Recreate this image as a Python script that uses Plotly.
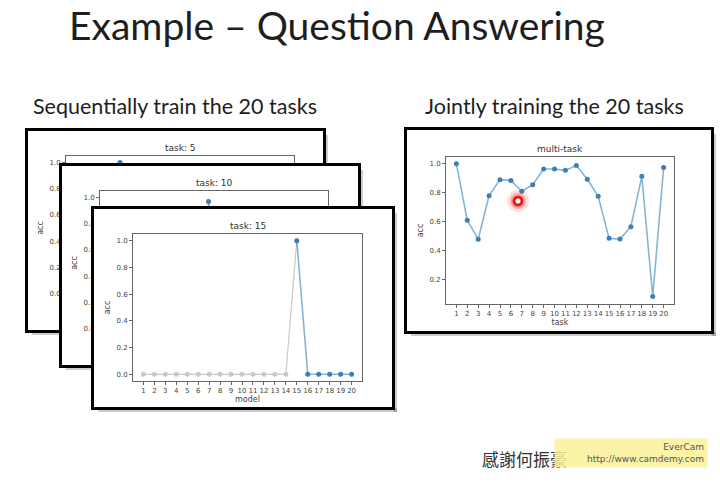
import plotly.graph_objects as go

W, H = 720, 482

# ---------------- data ----------------
models = list(range(1, 21))
model_labels = [str(m) for m in models]
acc_ticks = [0.0, 0.2, 0.4, 0.6, 0.8, 1.0]
acc_tick_labels = ["0.0", "0.2", "0.4", "0.6", "0.8", "1.0"]

# task 5 (mostly hidden)
t5_gray_x = [1, 2, 3, 4, 5]
t5_gray_y = [0.0, 0.0, 0.0, 0.0, 1.0]
t5_blue_x = [5, 6, 7, 8, 9, 10, 11, 12, 13, 14, 15, 16, 17, 18, 19, 20]
t5_blue_y = [1.0, 0.0, 0.0, 0.0, 0.0, 0.0, 0.0, 0.0, 0.0, 0.0, 0.0, 0.0, 0.0, 0.0, 0.0, 0.0]

# task 10 (mostly hidden)
t10_gray_x = [1, 2, 3, 4, 5, 6, 7, 8, 9, 10]
t10_gray_y = [0.0, 0.0, 0.0, 0.0, 0.0, 0.0, 0.0, 0.0, 0.0, 0.97]
t10_blue_x = [10, 11, 12, 13, 14, 15, 16, 17, 18, 19, 20]
t10_blue_y = [0.97, 0.0, 0.0, 0.0, 0.0, 0.0, 0.0, 0.0, 0.0, 0.0, 0.0]

# task 15
t15_gray_x = [1, 2, 3, 4, 5, 6, 7, 8, 9, 10, 11, 12, 13, 14, 15]
t15_gray_y = [0.0] * 14 + [1.0]
t15_blue_x = [15, 16, 17, 18, 19, 20]
t15_blue_y = [1.0, 0.0, 0.0, 0.0, 0.0, 0.0]

# multi-task
joint_acc = [1.0, 0.61, 0.48, 0.78, 0.89, 0.885, 0.81, 0.855, 0.963, 0.963,
             0.954, 0.988, 0.893, 0.776, 0.486, 0.481, 0.566, 0.913, 0.086, 0.973]

# ---------------- helpers ----------------
def px(x):
    return x / W

def py(y):
    return 1 - y / H

def dom_x(a, b):
    return [px(a), px(b)]

def dom_y(top, bottom):
    return [py(bottom), py(top)]

fig = go.Figure()

GRAY = "#c9c9c9"
BLUE_LINE = "rgba(31,119,180,0.55)"
BLUE_MK = "#3d7fb5"
TICK_FONT = dict(family="DejaVu Sans", size=7, color="#444")
LBL_FONT = dict(family="DejaVu Sans", size=8, color="#444")

card_rects = {
    1: (28, 131, 323, 330),
    3: (62, 166, 358, 365),
    5: (94, 209, 392, 407),
    7: (407, 130, 711, 331),
}
plot_rects = {
    2: (66, 156, 294, 300),
    4: (100, 191, 328, 335),
    6: (133, 234, 362, 381),
    8: (446, 157, 674, 304),
}

def card_axes(n):
    x0, y0, x1, y1 = card_rects[n]
    common = dict(showgrid=False, zeroline=False, showticklabels=False, ticks="",
                  showline=True, mirror=True, linecolor="black", linewidth=3,
                  range=[0, 1], fixedrange=True)
    fig.add_trace(go.Scatter(x=[], y=[], xaxis=f"x{n}", yaxis=f"y{n}",
                             hoverinfo="skip", showlegend=False))
    fig.update_layout(**{
        f"xaxis{n}": dict(domain=dom_x(x0, x1), anchor=f"y{n}", **common),
        f"yaxis{n}": dict(domain=dom_y(y0, y1), anchor=f"x{n}", **common),
    })

def plot_axes(n, title, xtitle, yrange, yticks, yticklabels, show_xlabels=True):
    x0, y0, x1, y1 = plot_rects[n]
    axc = dict(showgrid=False, zeroline=False, showline=True, mirror=True,
               linecolor="#666", linewidth=1, ticks="outside", ticklen=3,
               tickcolor="#666", tickfont=TICK_FONT, fixedrange=True, automargin=False)
    xt = dict(text=xtitle, font=LBL_FONT, standoff=1) if xtitle else None
    fig.update_layout(**{
        f"xaxis{n}": dict(domain=dom_x(x0, x1), anchor=f"y{n}", range=[0.05, 20.95],
                          tickvals=models, ticktext=model_labels, tickangle=0,
                          showticklabels=show_xlabels, title=xt, **axc),
        f"yaxis{n}": dict(domain=dom_y(y0, y1), anchor=f"x{n}", range=yrange,
                          tickvals=yticks, ticktext=yticklabels,
                          title=dict(text="acc", font=LBL_FONT, standoff=4), **axc),
    })
    fig.add_annotation(text=title, xref=f"x{n} domain", yref=f"y{n} domain",
                       x=0.5, y=1, yanchor="bottom", xanchor="center", yshift=1,
                       showarrow=False, font=dict(family="DejaVu Sans", size=9, color="#333"))

def add_task_traces(n, gx, gy, bx, by):
    fig.add_trace(go.Scatter(x=gx, y=gy, xaxis=f"x{n}", yaxis=f"y{n}", mode="lines+markers",
                             line=dict(color=GRAY, width=1.2),
                             marker=dict(color=GRAY, size=5), showlegend=False))
    fig.add_trace(go.Scatter(x=bx, y=by, xaxis=f"x{n}", yaxis=f"y{n}", mode="lines+markers",
                             line=dict(color=BLUE_LINE, width=1.6),
                             marker=dict(color=BLUE_MK, size=5), showlegend=False))

# order matters: later subplots cover earlier overlapping ones
card_axes(1)
plot_axes(2, "task: 5", None, [-0.05, 1.05], acc_ticks, acc_tick_labels, show_xlabels=False)
add_task_traces(2, t5_gray_x, t5_gray_y, t5_blue_x, t5_blue_y)
card_axes(3)
plot_axes(4, "task: 10", None, [-0.05, 1.05], acc_ticks, acc_tick_labels, show_xlabels=False)
add_task_traces(4, t10_gray_x, t10_gray_y, t10_blue_x, t10_blue_y)
card_axes(5)
plot_axes(6, "task: 15", "model", [-0.05, 1.05], acc_ticks, acc_tick_labels)
add_task_traces(6, t15_gray_x, t15_gray_y, t15_blue_x, t15_blue_y)
card_axes(7)
plot_axes(8, "multi-task", "task", [0.034, 1.046], acc_ticks[1:], acc_tick_labels[1:])
fig.add_trace(go.Scatter(x=models, y=joint_acc, xaxis="x8", yaxis="y8", mode="lines+markers",
                         line=dict(color=BLUE_LINE, width=1.6),
                         marker=dict(color=BLUE_MK, size=5), showlegend=False))

# card shadows (strips right & bottom)
shapes = []
for n, (x0, y0, x1, y1) in card_rects.items():
    shapes.append(dict(type="rect", xref="paper", yref="paper", layer="below",
                       x0=px(x1 + 1), x1=px(x1 + 5), y0=py(y1 + 5), y1=py(y0 + 4),
                       fillcolor="rgba(0,0,0,0.2)", line=dict(width=0)))
    shapes.append(dict(type="rect", xref="paper", yref="paper", layer="below",
                       x0=px(x0 + 4), x1=px(x1 + 5), y0=py(y1 + 5), y1=py(y1 + 1),
                       fillcolor="rgba(0,0,0,0.2)", line=dict(width=0)))

# laser pointer
cx, cy = 518, 201
for r, col in [(11, "rgba(255,40,40,0.15)"), (8, "rgba(255,40,40,0.3)"), (5.5, "rgba(230,20,20,0.95)"), (2.5, "white")]:
    shapes.append(dict(type="circle", xref="paper", yref="paper", layer="above",
                       x0=px(cx - r), x1=px(cx + r), y0=py(cy + r), y1=py(cy - r),
                       fillcolor=col, line=dict(width=0)))
fig.update_layout(shapes=shapes)

# slide texts
fig.add_annotation(text="Example – Question Answering", xref="paper", yref="paper",
                   x=px(67), y=py(25), xanchor="left", yanchor="middle", showarrow=False,
                   font=dict(family="Lato", size=39, color="#1e1e1e"))
fig.add_annotation(text="Sequentially train the 20 tasks", xref="paper", yref="paper",
                   x=px(31), y=py(106), xanchor="left", yanchor="middle", showarrow=False,
                   font=dict(family="Lato", size=21.5, color="#1e1e1e"))
fig.add_annotation(text="Jointly training the 20 tasks", xref="paper", yref="paper",
                   x=px(423), y=py(106), xanchor="left", yanchor="middle", showarrow=False,
                   font=dict(family="Lato", size=21.5, color="#1e1e1e"))
fig.add_annotation(text="感謝何振豪", xref="paper", yref="paper",
                   x=px(480), y=py(458), xanchor="left", yanchor="middle", showarrow=False,
                   font=dict(family="Noto Sans CJK TC", size=17, color="#333"))
fig.add_annotation(text="EverCam<br>http://www.camdemy.com", xref="paper", yref="paper",
                   x=px(554), y=py(453), xanchor="left", yanchor="middle", showarrow=False,
                   align="right", bgcolor="rgba(250,242,150,0.85)", borderpad=3,
                   width=146, font=dict(family="DejaVu Sans", size=9, color="#555"))

fig.update_layout(width=W, height=H, margin=dict(l=0, r=0, t=0, b=0),
                  paper_bgcolor="white", plot_bgcolor="white", showlegend=False)

fig.write_html("out.html", config={"displayModeBar": False},
               post_script="document.body.style.margin='0';document.body.style.padding='0';")
